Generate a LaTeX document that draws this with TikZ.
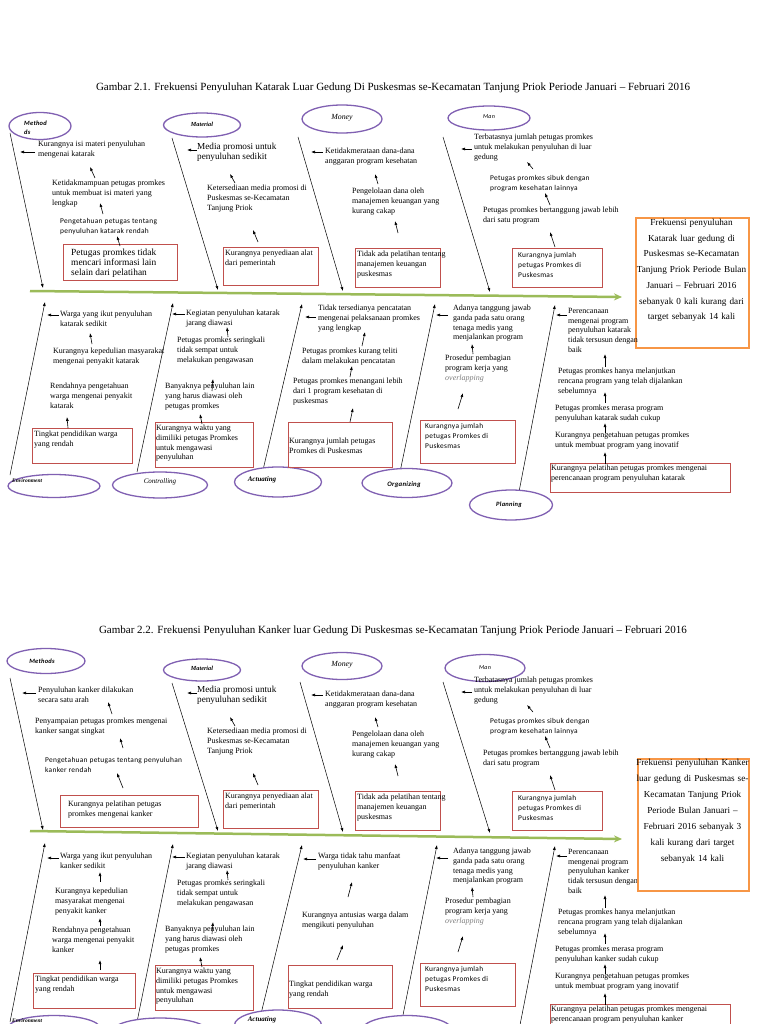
\documentclass[tikz,border=0pt]{standalone}
\usepackage{fontspec}
\setmainfont{Liberation Serif}
\newfontfamily\calib[LetterSpace=4]{Carlito}
\usetikzlibrary{arrows.meta,shapes.geometric}
\definecolor{boxred}{RGB}{192,80,77}
\definecolor{catpurple}{RGB}{128,96,178}
\definecolor{spinegreen}{RGB}{155,187,89}
\definecolor{boxorange}{RGB}{247,150,70}
\tikzset{
 cz/.style={font=\fontsize{8}{9.7}\selectfont, align=left, inner sep=0pt, anchor=north west},
 czs/.style={font=\calib\fontsize{7.4}{10}\selectfont, align=left, inner sep=0pt, anchor=north west},
 rbox/.style={draw=boxred, line width=1.3pt, inner sep=0pt, anchor=north west},
 arr/.style={-{Latex[length=4pt,width=3pt]}, line width=0.6pt},
 bone/.style={-{Latex[length=4pt,width=3pt]}, line width=0.5pt},
 cat/.style={ellipse, draw=catpurple, line width=1.3pt, fill=white, inner sep=0pt},
 lab/.style={inner sep=0pt},
 spine/.style={draw=spinegreen, line width=2.5pt, -{Stealth[length=8pt,width=7pt]}},
 resbox/.style={draw=boxorange, line width=1.8pt, inner sep=0pt, anchor=north west},
 restext/.style={font=\fontsize{9.2}{15.7}\selectfont, align=center, inner sep=0pt, anchor=north, text width=118pt},
 ttl/.style={font=\fontsize{11}{13}\selectfont, inner sep=0pt}
}
\newcommand\topshared[1]{%
 \node[cz, font=\fontsize{9.2}{10}\selectfont] (#1tA) at (197,143) {Media promosi untuk\\penyuluhan sedikit};
 \draw[arr] (197,150) -- (187,150);
 \node[cz] (#1tB) at (207,185) {Ketersediaan media promosi di\\Puskesmas se-Kecamatan\\Tanjung Priok};
 \node[rbox, minimum width=95pt, minimum height=38pt] (#1tC) at (223,247) {};
 \node[cz] (#1tCt) at (225,250) {Kurangnya penyediaan alat\\dari pemerintah};
 \draw[arr] (258,242) -- (253,230);
 \draw[arr] (235,183) -- (230,174);
 \node[cz] (#1nA) at (325,148) {Ketidakmerataan dana-dana\\anggaran program kesehatan};
 \draw[arr] (323,152) -- (311,152);
 \node[cz] (#1nB) at (352,188) {Pengelolaan dana oleh\\manajemen keuangan yang\\kurang cakap};
 \node[rbox, minimum width=85pt, minimum height=39pt] (#1nC) at (355,248) {};
 \node[cz] (#1nCt) at (357,251) {Tidak ada pelatihan tentang\\manajemen keuangan\\puskesmas};
 \draw[arr] (398,233) -- (395,221);
 \draw[arr] (378,184) -- (375,174);
 \node[cz] (#1hA) at (474,134) {Terbatasnya jumlah petugas promkes\\untuk melakukan penyuluhan di luar\\gedung};
 \draw[arr] (472,149) -- (461,149);
 \node[czs] (#1hB) at (490,175) {Petugas promkes sibuk dengan\\program kesehatan lainnya};
 \node[cz] (#1hC) at (483,207) {Petugas promkes bertanggung jawab lebih\\dari satu program};
 \node[rbox, minimum width=90pt, minimum height=39pt] (#1hD) at (512,248) {};
 \node[czs] (#1hDt) at (518,252) {Kurangnya jumlah\\petugas Promkes di\\Puskesmas};
 \draw[arr] (555,247) -- (550,232);
 \draw[arr] (550,205) -- (545,193);
 \draw[arr] (533,169) -- (527,162);
}
\newcommand\botshared[1]{%
 \node[cz] (#1cA) at (186,310) {Kegiatan penyuluhan katarak\\jarang diawasi};
 \draw[arr] (185,314) -- (172,314);
 \node[cz] (#1cB) at (177,337) {Petugas promkes seringkali\\tidak sempat untuk\\melakukan pengawasan};
 \node[cz] (#1cC) at (165,383) {Banyaknya penyuluhan lain\\yang harus diawasi oleh\\petugas promkes};
 \node[rbox, minimum width=98pt, minimum height=45pt] (#1cD) at (155,422) {};
 \node[cz] (#1cDt) at (156,425) {Kurangnya waktu yang\\dimiliki petugas Promkes\\untuk mengawasi\\penyuluhan};
 \draw[arr] (202,424) -- (200,414);
 \draw[arr] (212,391) -- (213,379);
 \draw[arr] (228,337) -- (227,327);
 \node[cz] (#1oA) at (453,305) {Adanya tanggung jawab\\ganda pada satu orang\\tenaga medis yang\\menjalankan program};
 \draw[arr] (448,315) -- (436,315);
 \node[cz] (#1oB) at (445,355) {Prosedur pembagian\\program kerja yang\\{\color{gray}\itshape overlapping}};
 \node[rbox, minimum width=95pt, minimum height=43pt] (#1oC) at (420,420) {};
 \node[czs] (#1oCt) at (425,423) {Kurangnya jumlah\\petugas Promkes di\\Puskesmas};
 \draw[arr] (458,409) -- (463,393);
 \draw[arr] (473,354) -- (472,344);
}
\newcommand\planpart[2]{%
 \node[cz] (#1pA) at (568,308) {Perencanaan\\mengenai program\\penyuluhan #2\\tidak tersusun dengan\\baik};
 \draw[arr] (567,315) -- (556,315);
 \node[cz] (#1pB) at (558,368) {Petugas promkes hanya melanjutkan\\rencana program yang telah dijalankan\\sebelumnya};
 \node[cz] (#1pC) at (555,405) {Petugas promkes merasa program\\penyuluhan #2 sudah cukup};
 \node[cz] (#1pD) at (555,432) {Kurangnya pengetahuan petugas promkes\\untuk membuat program yang inovatif};
 \node[rbox, minimum width=180pt, minimum height=29pt] (#1pE) at (550,463) {};
 \node[cz] (#1pEt) at (551,465) {Kurangnya pelatihan petugas promkes mengenai\\perencanaan program penyuluhan #2};
 \draw[arr] (605,367) -- (605,354);
 \draw[arr] (605,403) -- (605,392);
 \draw[arr] (605,433) -- (605,423);
 \draw[arr] (605,464) -- (605,452);
}
\begin{document}
\begin{tikzpicture}[x=1pt,y=-1pt]
\fill[white] (0,0) rectangle (768,1024);
\useasboundingbox (0,0) rectangle (768,1024);

%% ===================== DIAGRAM 1 =====================
\node[ttl] (a1title) at (393,88) {Gambar 2.1. Frekuensi Penyuluhan Katarak Luar Gedung Di Puskesmas se-Kecamatan Tanjung Priok Periode Januari -- Februari 2016};

\draw[spine] (30,291) coordinate (a1s0) -- (622,297) coordinate (a1s1);

\draw[bone] (10,133) -- (43,288);
\draw[bone] (172,138) -- (218,290);
\draw[bone] (298,137) -- (343,291);
\draw[bone] (443,137) -- (490,292);
\draw[bone] (10,475) -- (45,302);
\draw[bone] (137,472) -- (173,303);
\draw[bone] (263,470) -- (302,304);
\draw[bone] (400,472) -- (435,304);
\draw[bone] (518,497) -- (555,305);

\node[cat, minimum width=62pt, minimum height=27pt] (a1eM) at (40,126) {};
\node[lab, font=\calib\bfseries\itshape\fontsize{6.5}{9}\selectfont, align=left, anchor=north west] (a1eMl) at (24,121) {Method\\ds};
\node[cat, minimum width=77pt, minimum height=24pt] (a1eMa) at (202,125) {};
\node[lab, font=\bfseries\itshape\fontsize{6.2}{7}\selectfont] (a1eMal) at (202,124) {Material};
\node[cat, minimum width=80pt, minimum height=28pt] (a1eMo) at (342,119) {};
\node[lab, font=\itshape\fontsize{7.8}{9}\selectfont] (a1eMol) at (342,118) {Money};
\node[cat, minimum width=82pt, minimum height=24pt] (a1eMn) at (489,118) {};
\node[lab, font=\calib\itshape\fontsize{6}{7}\selectfont] (a1eMnl) at (489,117) {Man};

\node[cat, minimum width=92pt, minimum height=23pt] (a1eE) at (54,486) {};
\node[lab, font=\bfseries\itshape\fontsize{5.5}{6}\selectfont, anchor=west] (a1eEl) at (12,481) {Environment};
\node[cat, minimum width=95pt, minimum height=26pt] (a1eC) at (160,485) {};
\node[lab, font=\itshape\fontsize{7}{8}\selectfont] (a1eCl) at (160,482) {Controlling};
\node[cat, minimum width=87pt, minimum height=30pt] (a1eA) at (278,482) {};
\node[lab, font=\bfseries\itshape\fontsize{7}{8}\selectfont] (a1eAl) at (262,480) {Actuating};
\node[cat, minimum width=90pt, minimum height=29pt] (a1eO) at (407,483) {};
\node[lab, font=\calib\bfseries\itshape\fontsize{6.8}{8}\selectfont] (a1eOl) at (404,485) {Organizing};
\node[cat, minimum width=83pt, minimum height=30pt] (a1eP) at (511,505) {};
\node[lab, font=\calib\bfseries\itshape\fontsize{6.5}{8}\selectfont] (a1ePl) at (509,505) {Planning};

% Method
\node[cz] (a1mA) at (38,141) {Kurangnya isi materi penyuluhan\\mengenai katarak};
\draw[arr] (35,152) -- (20,152);
\node[cz] (a1mB) at (52,180) {Ketidakmampuan petugas promkes\\untuk membuat isi materi yang\\lengkap};
\node[czs] (a1mC) at (60,218) {Pengetahuan petugas tentang\\penyuluhan katarak rendah};
\node[rbox, minimum width=114pt, minimum height=36pt] (a1mD) at (63,244) {};
\node[cz, font=\fontsize{9.4}{10}\selectfont] (a1mDt) at (71,249) {Petugas promkes tidak\\mencari informasi lain\\selain dari pelatihan};
\draw[arr] (120,246) -- (117,236);
\draw[arr] (103,214) -- (100,203);
\draw[arr] (95,178) -- (90,167);

\topshared{a1}

% Result box 1
\node[resbox, minimum width=113pt, minimum height=130pt] (a1res) at (635,217) {};
\node[restext] (a1rest) at (691.5,219) {Frekuensi penyuluhan\\Katarak luar gedung di\\Puskesmas se-Kecamatan\\Tanjung Priok Periode Bulan\\Januari -- Februari 2016\\sebanyak 0 kali kurang dari\\target sebanyak 14 kali};

% Environment
\node[cz] (a1eA1) at (60,311) {Warga yang ikut penyuluhan\\katarak sedikit};
\draw[arr] (59,315) -- (47,315);
\node[cz] (a1eB1) at (53,348) {Kurangnya kepedulian masyarakat\\mengenai penyakit katarak};
\node[cz] (a1eC1) at (50,383) {Rendahnya pengetahuan\\warga mengenai penyakit\\katarak};
\node[rbox, minimum width=100pt, minimum height=35pt] (a1eD1) at (32,428) {};
\node[cz] (a1eD1t) at (34,431) {Tingkat pendidikan warga\\yang rendah};
\draw[arr] (68,428) -- (67,417);
\draw[arr] (92,344) -- (90,333);

% Actuating
\node[cz] (a1aA) at (318,305) {Tidak tersedianya pencatatan\\mengenai pelaksanaan promkes\\yang lengkap};
\draw[arr] (316,317) -- (305,317);
\node[cz] (a1aB) at (302,348) {Petugas promkes kurang teliti\\dalam melakukan pencatatan};
\node[cz] (a1aC) at (293,378) {Petugas promkes menangani lebih\\dari 1 program kesehatan di\\puskesmas};
\node[rbox, minimum width=104pt, minimum height=45pt] (a1aD) at (288,422) {};
\node[cz] (a1aDt) at (289,438) {Kurangnya jumlah petugas\\Promkes di Puskesmas};
\draw[arr] (350,422) -- (353,408);
\draw[arr] (350,377) -- (352,366);
\draw[arr] (362,346) -- (365,332);

\botshared{a1}
\planpart{a1}{katarak}

%% ===================== DIAGRAM 2 =====================
\node[ttl] (a2title) at (393,631) {Gambar 2.2. Frekuensi Penyuluhan Kanker luar Gedung Di Puskesmas se-Kecamatan Tanjung Priok Periode Januari -- Februari 2016};

\draw[spine] (30,831) coordinate (a2s0) -- (622,839) coordinate (a2s1);

\draw[bone] (10,678) -- (43,830);
\draw[bone] (172,683) -- (218,831);
\draw[bone] (300,682) -- (343,832);
\draw[bone] (443,682) -- (490,833);
\draw[bone] (10,1022) -- (45,843);
\draw[bone] (137,1022) -- (173,844);
\draw[bone] (260,1018) -- (302,845);
\draw[bone] (403,1015) -- (437,845);
\draw[bone] (520,1025) -- (555,846);

\node[cat, minimum width=78pt, minimum height=25pt] (a2eM) at (46,661) {};
\node[lab, font=\calib\bfseries\itshape\fontsize{6.5}{8}\selectfont] (a2eMl) at (42,661) {Methods};
\node[cat, minimum width=77pt, minimum height=22pt] (a2eMa) at (202,670) {};
\node[lab, font=\bfseries\itshape\fontsize{6.2}{7}\selectfont] (a2eMal) at (202,668) {Material};
\node[cat, minimum width=80pt, minimum height=27pt] (a2eMo) at (342,666) {};
\node[lab, font=\itshape\fontsize{7.8}{9}\selectfont] (a2eMol) at (342,665) {Money};
\node[cat, minimum width=80pt, minimum height=27pt] (a2eMn) at (485,668) {};
\node[lab, font=\calib\itshape\fontsize{6}{7}\selectfont] (a2eMnl) at (485,668) {Man};

\node[cat, minimum width=92pt, minimum height=25pt] (a2eE) at (54,1028) {};
\node[lab, font=\bfseries\itshape\fontsize{5.5}{6}\selectfont, anchor=west] (a2eEl) at (12,1021) {Environment};
\node[cat, minimum width=95pt, minimum height=26pt] (a2eC) at (160,1031) {};
\node[cat, minimum width=87pt, minimum height=30pt] (a2eA) at (278,1025) {};
\node[lab, font=\bfseries\itshape\fontsize{7}{8}\selectfont] (a2eAl) at (262,1020) {Actuating};
\node[cat, minimum width=90pt, minimum height=29pt] (a2eO) at (407,1030) {};

% Methods
\node[cz] (a2mA) at (38,687) {Penyuluhan kanker dilakukan\\secara satu arah};
\draw[arr] (36,693) -- (22,693);
\node[cz] (a2mB) at (35,718) {Penyampaian petugas promkes mengenai\\kanker sangat singkat};
\node[czs] (a2mC) at (45,757) {Pengetahuan petugas tentang penyuluhan\\kanker rendah};
\node[rbox, minimum width=138pt, minimum height=32pt] (a2mD) at (60,795) {};
\node[cz] (a2mDt) at (68,801) {Kurangnya pelatihan petugas\\promkes mengenai kanker};
\draw[arr] (123,788) -- (117,773);
\draw[arr] (123,748) -- (120,738);
\draw[arr] (112,714) -- (108,702);

\begin{scope}[shift={(0,543)}]
\topshared{a2}
\botshared{a2}
\end{scope}
\begin{scope}[shift={(0,541)}]
\planpart{a2}{kanker}
\end{scope}

% Result box 2
\node[resbox, minimum width=111pt, minimum height=132pt] (a2res) at (637,758) {};
\node[restext, font=\fontsize{9.2}{16}\selectfont] (a2rest) at (692.5,759) {Frekuensi penyuluhan Kanker\\luar gedung di Puskesmas se-\\Kecamatan Tanjung Priok\\Periode Bulan Januari --\\Februari 2016 sebanyak 3\\kali kurang dari target\\sebanyak 14 kali};

% Environment 2
\node[cz] (a2eA1) at (60,853) {Warga yang ikut penyuluhan\\kanker sedikit};
\draw[arr] (59,858) -- (47,858);
\node[cz] (a2eB1) at (55,888) {Kurangnya kepedulian\\masyarakat mengenai\\penyakit kanker};
\node[cz] (a2eC1) at (52,927) {Rendahnya pengetahuan\\warga mengenai penyakit\\kanker};
\node[rbox, minimum width=102pt, minimum height=35pt] (a2eD1) at (33,973) {};
\node[cz] (a2eD1t) at (35,976) {Tingkat pendidikan warga\\yang rendah};
\draw[arr] (100,882) -- (100,872);
\draw[arr] (100,926) -- (100,918);
\draw[arr] (100,970) -- (100,960);

% Actuating 2
\node[cz] (a2aA) at (318,853) {Warga tidak tahu manfaat\\penyuluhan kanker};
\draw[arr] (316,859) -- (303,859);
\node[cz] (a2aB) at (302,912) {Kurangnya antusias warga dalam\\mengikuti penyuluhan};
\node[rbox, minimum width=104pt, minimum height=43pt] (a2aD) at (288,965) {};
\node[cz] (a2aDt) at (289,981) {Tingkat pendidikan warga\\yang rendah};
\draw[arr] (337,960) -- (343,945);
\draw[arr] (348,897) -- (352,882);

\end{tikzpicture}
\end{document}
